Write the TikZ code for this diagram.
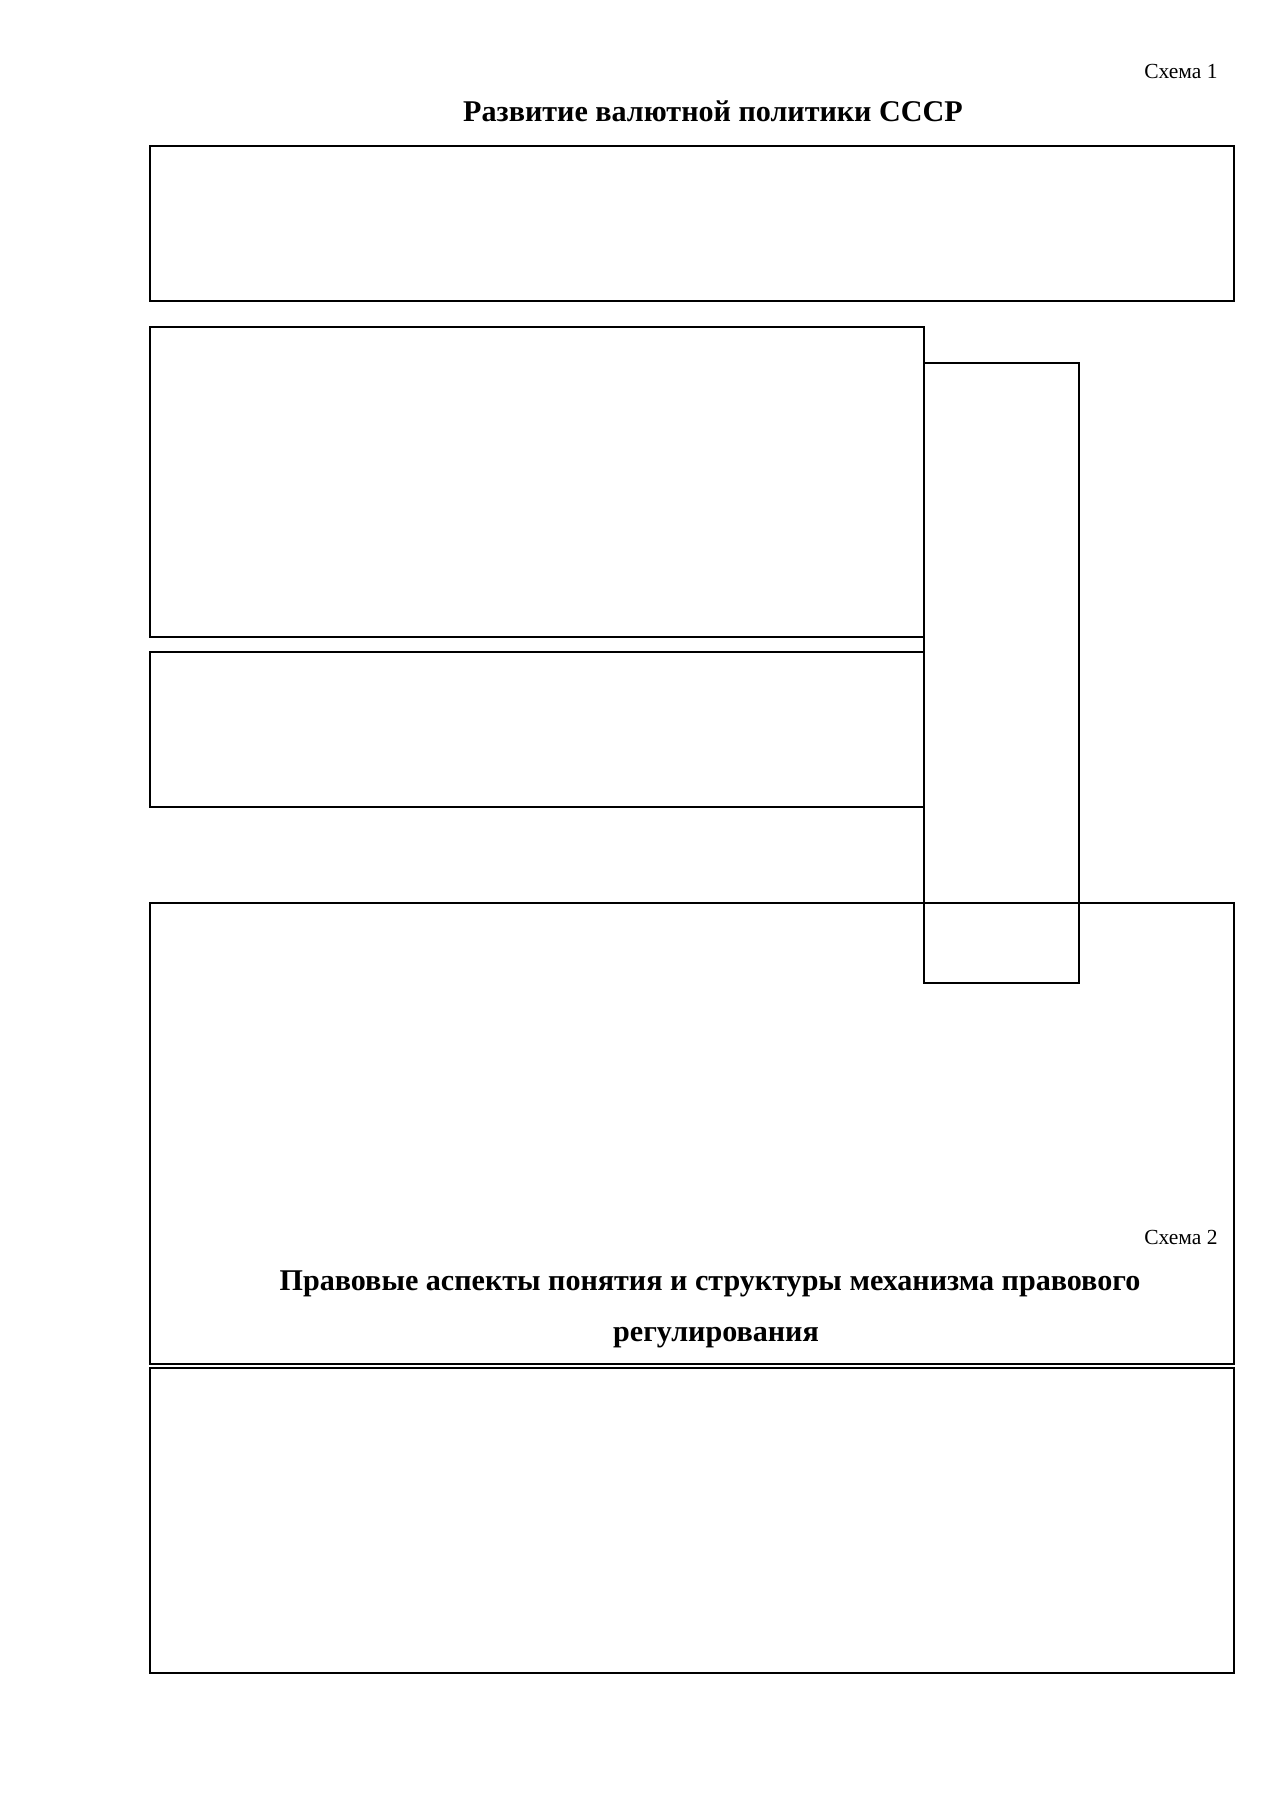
\documentclass[tikz,border=0pt]{standalone}
\usepackage{fontspec}
\setmainfont{Liberation Serif}
\usetikzlibrary{fit}
\begin{document}
\begin{tikzpicture}[x=0.465pt,y=-0.465pt,
  box/.style={draw=black, line width=1pt, inner sep=0pt, fill=none},
  schemalabel/.style={anchor=base east, inner sep=0pt, font=\fontsize{10}{12}\selectfont},
  titletext/.style={anchor=base, inner sep=0pt, font=\fontsize{14}{16}\selectfont\bfseries}]
\useasboundingbox (0,0) rectangle (1280,1811);
\node[schemalabel] (s1) at (1218,79) {Схема 1};
\node[titletext] (t1) at (713,122) {Развитие валютной политики СССР};
\node[box, fit={(150,146) (1234,301)}] (b1) {};
\node[box, fit={(150,327) (924,637)}] (b2) {};
\node[box, fit={(150,652) (924,807)}] (b3) {};
\node[box, fit={(924,363) (1079,983)}] (tall) {};
\node[box, fit={(150,903) (1234,1364)}] (b4) {};
\node[box, fit={(150,1368) (1234,1673)}] (b5) {};
\node[schemalabel] (s2) at (1218,1244) {Схема 2};
\node[titletext] (t2a) at (710,1290) {Правовые аспекты понятия и структуры механизма правового};
\node[titletext] (t2b) at (716,1341) {регулирования};
\end{tikzpicture}
\end{document}
